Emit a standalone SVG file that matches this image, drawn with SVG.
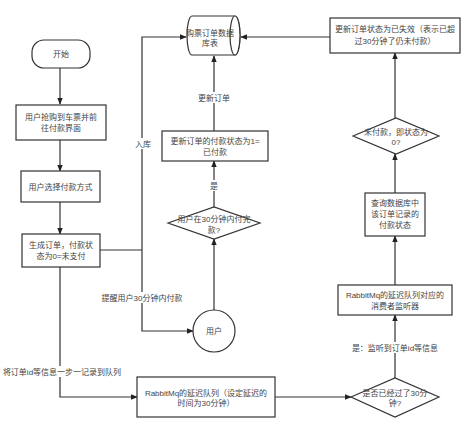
<svg xmlns="http://www.w3.org/2000/svg" width="474" height="427" viewBox="0 0 474 427">
<defs>
<marker id="ah" viewBox="0 0 10 10" refX="9" refY="5" markerWidth="7" markerHeight="7" markerUnits="userSpaceOnUse" orient="auto">
<path d="M0,1 L10,5 L0,9 Z" fill="#222"/>
</marker>
<style>
.s{fill:#fff;stroke:#333;stroke-width:1.2}
.t{font-family:"Liberation Sans","Noto Sans CJK SC",sans-serif;font-size:8px;fill:#444;text-anchor:middle}
.c{fill:none;stroke:#333;stroke-width:1.2;marker-end:url(#ah)}
.l{fill:none;stroke:#333;stroke-width:1.2}
.bg{fill:#fff}
</style>
</defs>
<rect width="474" height="427" fill="#fff"/>
<g id="connectors">
<line class="c" x1="60" y1="68" x2="60" y2="104"/>
<line class="c" x1="60" y1="140" x2="60" y2="171"/>
<line class="c" x1="60" y1="202" x2="60" y2="234"/>
<polyline class="l" points="100,250 142,250"/>
<polyline class="c" points="142,250 142,37 186,37"/>
<polyline class="c" points="142,250 142,331 193,331"/>
<polyline class="c" points="60,267 60,397 137,397"/>
<line class="c" x1="214" y1="310" x2="214" y2="239"/>
<line class="c" x1="214" y1="207" x2="214" y2="161"/>
<line class="c" x1="214" y1="131" x2="214" y2="56"/>
<line class="c" x1="330" y1="37" x2="241" y2="37"/>
<line class="c" x1="275" y1="397" x2="351" y2="397"/>
<line class="c" x1="395" y1="378" x2="395" y2="315"/>
<line class="c" x1="395" y1="285" x2="395" y2="236"/>
<line class="c" x1="395" y1="193" x2="395" y2="154"/>
<line class="c" x1="395" y1="118" x2="395" y2="53"/>
<rect class="bg" x="134" y="138" width="18" height="11"/>
<text class="t" x="143" y="146.5">入库</text>
<rect class="bg" x="102" y="292" width="82" height="11"/>
<text class="t" x="142" y="300.5">提醒用户30分钟内付款</text>
<rect class="bg" x="3" y="366" width="118" height="11"/>
<text class="t" x="62" y="374.5">将订单id等信息一步一记录到队列</text>
<rect class="bg" x="196" y="92" width="36" height="11"/>
<text class="t" x="214" y="100.5">更新订单</text>
<rect class="bg" x="208" y="180" width="12" height="11"/>
<text class="t" x="214" y="188.5">是</text>
<rect class="bg" x="352" y="342" width="86" height="11"/>
<text class="t" x="395" y="350.5">是：监听到订单id等信息</text>
</g>
<g id="start">
<rect class="s" x="32" y="40" width="58" height="28" rx="12"/>
<text class="t" x="61" y="57">开始</text>
</g>
<g id="grab">
<rect class="s" x="16" y="105" width="90" height="35"/>
<text class="t" x="61" y="120">用户抢购到车票并前</text>
<text class="t" x="61" y="131">往付款界面</text>
</g>
<g id="choose">
<rect class="s" x="21" y="171" width="79" height="31"/>
<text class="t" x="60.5" y="189.5">用户选择付款方式</text>
</g>
<g id="create">
<rect class="s" x="22" y="234" width="78" height="33"/>
<text class="t" x="61" y="248">生成订单，付款状</text>
<text class="t" x="61" y="259">态为0=未支付</text>
</g>
<g id="db">
<path class="s" d="M192,16 L235,16 A5,19.5 0 0 1 235,55 L192,55 A5,19.5 0 0 1 192,16 Z"/>
<ellipse class="s" cx="235" cy="35.5" rx="5" ry="19.5"/>
<text class="t" x="210" y="36">购票订单数据</text>
<text class="t" x="210" y="46">库表</text>
</g>
<g id="paid">
<rect class="s" x="162" y="131" width="106" height="30"/>
<text class="t" x="215" y="144">更新订单的付款状态为1=</text>
<text class="t" x="215" y="155">已付款</text>
</g>
<g id="decide30">
<polygon class="s" points="168,223 214,207 260,223 214,239"/>
<text class="t" x="214" y="222">用户在30分钟内付完</text>
<text class="t" x="214" y="233">款?</text>
</g>
<g id="user">
<circle class="s" cx="214" cy="331" r="21"/>
<text class="t" x="214" y="334">用户</text>
</g>
<g id="delayq">
<rect class="s" x="137" y="377" width="138" height="40"/>
<text class="t" x="206" y="396">RabbitMq的延迟队列（设定延迟的</text>
<text class="t" x="206" y="406">时间为30分钟）</text>
</g>
<g id="passed">
<polygon class="s" points="351,397 395,378 439,397 395,417"/>
<text class="t" x="395" y="396">是否已经过了30分</text>
<text class="t" x="395" y="406">钟?</text>
</g>
<g id="consumer">
<rect class="s" x="338" y="285" width="114" height="30"/>
<text class="t" x="395" y="298">RabbitMq的延迟队列对应的</text>
<text class="t" x="395" y="309">消费者监听器</text>
</g>
<g id="query">
<rect class="s" x="365" y="193" width="60" height="43"/>
<text class="t" x="395" y="206">查询数据库中</text>
<text class="t" x="395" y="217">该订单记录的</text>
<text class="t" x="395" y="228">付款状态</text>
</g>
<g id="unpaid">
<polygon class="s" points="353,136 396,118 439,136 396,154"/>
<text class="t" x="396" y="135">未付款，即状态为</text>
<text class="t" x="396" y="145">0?</text>
</g>
<g id="expire">
<rect class="s" x="330" y="18" width="130" height="35"/>
<text class="t" x="395" y="32">更新订单状态为已失效（表示已超</text>
<text class="t" x="395" y="44">过30分钟了仍未付款）</text>
</g>
</svg>
